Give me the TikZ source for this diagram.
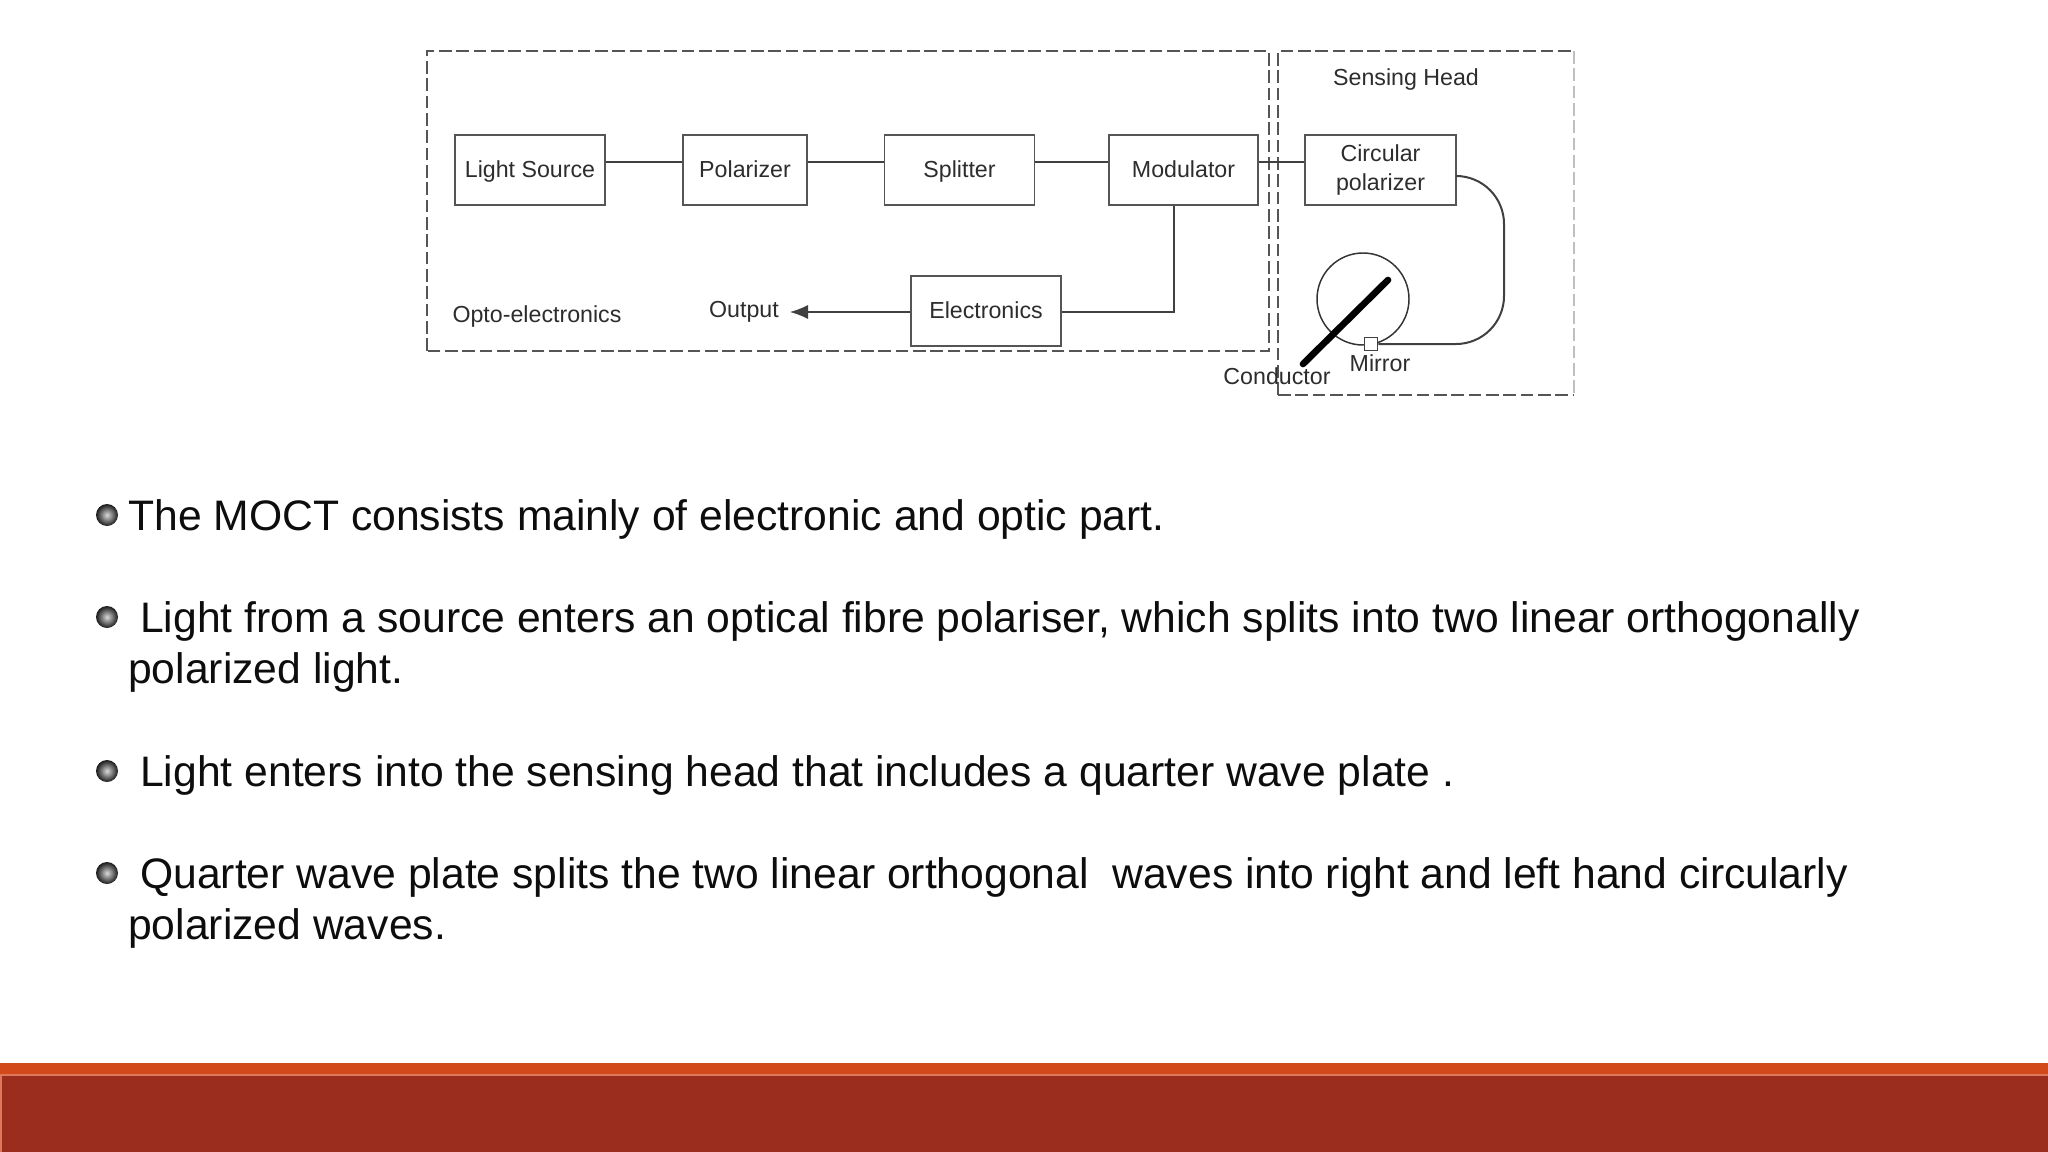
\documentclass[tikz,border=0pt]{standalone}
\usepackage{fontspec}
\setmainfont{Liberation Sans}
\usetikzlibrary{arrows.meta}
\usetikzlibrary{shapes.geometric}

\definecolor{lineGrey}{RGB}{85,85,85}
\definecolor{labelGrey}{RGB}{45,45,45}
\definecolor{stripOrange}{RGB}{210,74,28}
\definecolor{stripRed}{RGB}{155,45,31}
\definecolor{stripEdge}{RGB}{222,120,90}

\tikzset{
  blockbox/.style={draw=lineGrey,line width=1.3pt,fill=white,minimum width=#1*0.75pt,minimum height=52.5pt,inner sep=0pt,text=labelGrey,font=\fontsize{17.4}{21}\selectfont,align=center},
  oneline/.style={text height=13pt,text depth=2.5pt},
  blocklabel/.style={inner sep=0pt,text=labelGrey,font=\fontsize{17.4}{21}\selectfont},
  bodyline/.style={anchor=base west,inner sep=0pt,text=black!95,font=\fontsize{32}{38}\selectfont},
  linkline/.style={draw=black!75,line width=1.1pt},
  dashedge/.style={draw=lineGrey,line width=1.6pt,dash pattern=on 9.5pt off 3.5pt},
  paleedge/.style={draw=black!25,line width=0.8pt,dash pattern=on 9.5pt off 3.5pt},
  bulletball/.style={inner color=white!70!gray,outer color=black!90}
}

\begin{document}
\begin{tikzpicture}[x=0.75pt,y=0.75pt,yscale=-1,xscale=1]
\useasboundingbox (0,0) rectangle (2048,1152);
\fill[white] (0,0) rectangle (2048,1152);

%Shape: bottom band
\fill [stripOrange] (0,1063) rectangle (2048,1075);
\draw [fill=stripRed,draw=stripEdge,line width=0.9pt] (1,1075) rectangle (2049,1153);

%Shape: opto-electronics frame
\draw [dashedge] (427,351) -- (427,51) -- (1269,51) -- (1269,351) -- cycle ;
%Shape: sensing head frame
\draw [dashedge] (1278,395) -- (1278,51) -- (1574,51) ;
\draw [dashedge,line width=1.3pt] (1278,395) -- (1574,395) ;
\draw [paleedge] (1574,51) -- (1574,395) ;

% Block Node
\draw (530,170) node [blockbox=150,oneline] (lightsource) {Light Source};
% Block Node
\draw (745,170) node [blockbox=124,oneline] (polarizer) {Polarizer};
% Block Node
\draw (959.5,170) node [blockbox=150,oneline] (splitter) {Splitter};
% Block Node
\draw (1183.5,170) node [blockbox=149,oneline] (modulator) {Modulator};
% Block Node
\draw (1380.5,170) node [blockbox=151] (circular) {Circular\\[1pt]polarizer};
% Block Node
\draw (986,311) node [blockbox=150,oneline] (electronics) {Electronics};

% Text Node
\draw (744,312) node [blocklabel] (output) {Output};
\coordinate (outputtip) at (790,312);
\coordinate (modulatorfoot) at (1174,312);
\coordinate (fibrecorner) at (1504,344);
\coordinate (conductorlow) at (1303,364);
\coordinate (conductorhigh) at (1388,280);

%Straight Lines
\draw [linkline] ([yshift=-6pt]lightsource.east) -- ([yshift=-6pt]polarizer.west) ;
\draw [linkline] ([yshift=-6pt]polarizer.east) -- ([yshift=-6pt]splitter.west) ;
\draw [linkline] ([yshift=-6pt]splitter.east) -- ([yshift=-6pt]modulator.west) ;
\draw [linkline] ([yshift=-6pt]modulator.east) -- ([yshift=-6pt]circular.west) ;
\draw [linkline] (modulator.south -| modulatorfoot) -- (modulatorfoot) -- (electronics.east |- modulatorfoot) ;
\draw [linkline,line width=0.8pt,-{Latex[length=13.5pt,width=10.5pt]}] (electronics.west |- outputtip) -- (outputtip) ;

%Shape: Circle
\draw (1363,299) node [circle,draw=black!80,line width=1.1pt,minimum size=69pt,inner sep=0pt] (conductorloop) {};
%Straight Lines
\draw [black,line width=5pt,line cap=round] (conductorlow) -- (conductorhigh) ;
%Shape: Rectangle
\draw (1371,344) node [rectangle,draw=black!75,fill=white,line width=1.3pt,minimum size=9.75pt,inner sep=0pt] (mirror) {};
%Curve
\draw [linkline,line width=1.5pt,rounded corners=36pt] ([yshift=4.5pt]circular.east) -| (fibrecorner) -- (mirror.east) ;

% Text Node
\draw (1406,79.6) node [blocklabel] (sensinghead) {Sensing Head};
% Text Node
\draw (537,316.6) node [blocklabel] (optolabel) {Opto-electronics};
% Text Node
\draw (1380,363) node [blocklabel] (mirrorlabel) {Mirror};
% Text Node
\draw (1277,376) node [blocklabel] (conductorlabel) {Conductor};

%Shape: bullets
\shade [bulletball] (107,515) circle [radius=11] ;
\shade [bulletball] (107,617) circle [radius=11] ;
\shade [bulletball] (107,771) circle [radius=11] ;
\shade [bulletball] (107,873) circle [radius=11] ;

% Text Node
\draw (128,530) node [bodyline] (lineone) {The MOCT consists mainly of electronic and optic part.};
% Text Node
\draw (140,632) node [bodyline] (linetwo) {Light from a source enters an optical fibre polariser, which splits into two linear orthogonally};
% Text Node
\draw (128,683) node [bodyline] (linethree) {polarized light.};
% Text Node
\draw (140,786) node [bodyline] (linefour) {Light enters into the sensing head that includes a quarter wave plate .};
% Text Node
\draw (140,888) node [bodyline] (linefive) {Quarter wave plate splits the two linear orthogonal\ \ waves into right and left hand circularly};
% Text Node
\draw (128,939) node [bodyline] (linesix) {polarized waves.};

\end{tikzpicture}
\end{document}
